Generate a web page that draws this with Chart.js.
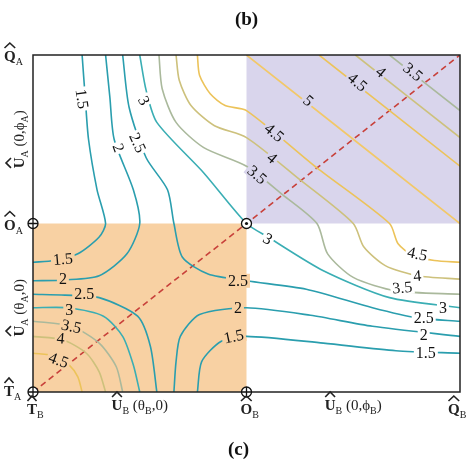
<!DOCTYPE html>
<html><head><meta charset="utf-8">
<script src="https://cdn.jsdelivr.net/npm/chart.js@4"></script>
<style>html,body{margin:0;padding:0;background:#fff}#w{width:474px;height:474px}</style>
</head><body><div id="w"><canvas id="c"></canvas></div>
<script>
// Contour lines (data units: x,y in 0..2)
const c15a = [[0.23,2],[0.245,1.74],[0.26,1.5],[0.30,1.2],[0.34,1],[0.31,0.92],[0.21,0.82],[0.10,0.78],[0,0.77]];
const c20a = [[0.34,2],[0.36,1.75],[0.38,1.5],[0.47,1.2],[0.50,1],[0.44,0.82],[0.31,0.69],[0.15,0.665],[0,0.66]];
const c25a = [[0.42,2],[0.45,1.69],[0.53,1.39],[0.63,1.2],[0.66,1],[0.70,0.80],[0.82,0.70],[1,0.66],[1.28,0.61],[1.59,0.50],[1.8,0.44],[2,0.42]];
const c30a = [[0.50,2],[0.53,1.79],[0.58,1.6],[0.80,1.30],[1,1],[1.10,0.92],[1.36,0.72],[1.67,0.56],[2,0.50]];
const c25b = [[0,0.58],[0.15,0.575],[0.31,0.56],[0.49,0.45],[0.55,0.27],[0.58,0]];
const c30b = [[0,0.50],[0.16,0.50],[0.33,0.45],[0.42,0.33],[0.47,0.16],[0.50,0]];
const c20b = [[0.66,0],[0.67,0.18],[0.69,0.33],[0.78,0.46],[1,0.50],[1.3,0.455],[1.59,0.39],[2,0.33]];
const c15b = [[0.77,0],[0.79,0.18],[0.88,0.30],[1,0.33],[1.36,0.29],[1.7,0.245],[2,0.23]];
const c35a = [[0,0.42],[0.18,0.39],[0.31,0.29],[0.39,0.15],[0.42,0]];
const c40a = [[0,0.33],[0.14,0.31],[0.25,0.23],[0.31,0.12],[0.34,0]];
const c45a = [[0,0.23],[0.10,0.215],[0.17,0.16],[0.21,0.09],[0.23,0]];
const c35b = [[0.59,2],[0.605,1.80],[0.67,1.60],[0.80,1.45],[1,1.34],[1.17,1.17],[1.33,1],[1.38,0.82],[1.50,0.68],[1.70,0.60],[2,0.58]];
const c40b = [[0.67,2],[0.685,1.85],[0.74,1.70],[0.85,1.58],[1,1.51],[1.25,1.26],[1.50,1],[1.55,0.86],[1.65,0.75],[1.80,0.69],[2,0.67]];
const c45b = [[0.77,2],[0.78,1.88],[0.83,1.77],[0.90,1.70],[1,1.67],[1.33,1.33],[1.67,1],[1.71,0.88],[1.78,0.81],[1.88,0.78],[2,0.77]];
const c50 = [[1,2],[2,1]];
const c45c = [[1.34,2],[2,1.34]];
const c40c = [[1.51,2],[2,1.51]];
const c35c = [[1.67,2],[2,1.67]];
const diag = [[0,0],[2,2]];
// contour labels: text, x, y, angle(deg)
const labels = [
 ["1.5",0.23,1.74,82],["2",0.40,1.45,70],["2.5",0.49,1.48,65],["3",0.52,1.73,62],
 ["5",1.29,1.73,40],["4.5",1.13,1.54,40],["4",1.12,1.39,40],["3.5",1.05,1.29,40],
 ["4.5",1.52,1.84,40],["4",1.63,1.90,40],["3.5",1.78,1.90,40],
 ["3",1.10,0.91,30],["4.5",1.80,0.82,12],["4",1.80,0.69,-5],["3.5",1.73,0.62,-5],
 ["3",1.92,0.50,0],["2.5",1.83,0.44,0],["2",1.83,0.34,0],["1.5",1.84,0.23,0],
 ["1.5",0.14,0.79,-5],["2",0.14,0.67,0],["2.5",0.24,0.58,0],["3",0.17,0.49,0],
 ["3.5",0.18,0.39,12],["4",0.13,0.32,5],["4.5",0.12,0.19,20],
 ["2.5",0.96,0.66,0],["2",0.96,0.50,0],["1.5",0.94,0.33,-12]
];
const teal="#2a9eae", teal2="#3aaeb4", grey="#aab99c", khaki="#cdc17c", yel="#ecc35a", yel5="#f2c868";
const lines = [
 [c15a,teal],[c20a,teal],[c25a,teal],[c30a,teal2],[c25b,teal],[c30b,teal2],[c20b,teal],[c15b,teal],
 [c35a,grey],[c40a,khaki],[c45a,yel],[c35b,grey],[c40b,khaki],[c45b,yel],[c50,yel5],[c45c,yel],[c40c,khaki],[c35c,grey]
];
const datasets = lines.map(([d,col])=>({data:d.map(p=>({x:p[0],y:p[1]})),borderColor:col,borderWidth:1.6,showLine:true,pointRadius:0,tension:0.25,fill:false}));
datasets.push({data:diag.map(p=>({x:p[0],y:p[1]})),borderColor:"#c8403a",borderWidth:1.6,borderDash:[6,4],showLine:true,pointRadius:0,fill:false});

function hatLabel(ctx,segs,x,y,rot,align){
  ctx.save();ctx.translate(x,y);ctx.rotate(rot);
  let w=0;
  const meas=s=>{ctx.font=s.f;return ctx.measureText(s.t).width;};
  segs.forEach(s=>w+=meas(s));
  let cx = align==="center"? -w/2 : 0;
  segs.forEach(s=>{
    ctx.font=s.f;ctx.fillStyle="#222";ctx.textBaseline="alphabetic";ctx.textAlign="left";
    const mw=ctx.measureText(s.t).width;
    ctx.fillText(s.t,cx,s.dy||0);
    if(s.hat){ctx.beginPath();ctx.moveTo(cx+0.5,-13);ctx.lineTo(cx+mw/2,-18);ctx.lineTo(cx+mw-0.5,-13);ctx.strokeStyle="#222";ctx.lineWidth=1.6;ctx.stroke();}
    cx+=mw;
  });
  ctx.restore();
}
const B="bold 15px 'Liberation Serif'", S="10px 'Liberation Serif'", N="15px 'Liberation Serif'";
const H=t=>({t,f:B,hat:true}), sub=t=>({t,f:S,dy:4}), n=t=>({t,f:N});

const plug={id:'p',
 beforeDatasetsDraw(ch){const {ctx}=ch;const X=ch.scales.x,Y=ch.scales.y;
  ctx.save();
  ctx.fillStyle="#f8d1a3";ctx.fillRect(X.getPixelForValue(0),Y.getPixelForValue(1),X.getPixelForValue(1)-X.getPixelForValue(0),Y.getPixelForValue(0)-Y.getPixelForValue(1));
  ctx.fillStyle="#d9d5ec";ctx.fillRect(X.getPixelForValue(1),Y.getPixelForValue(2),X.getPixelForValue(2)-X.getPixelForValue(1),Y.getPixelForValue(1)-Y.getPixelForValue(2));
  ctx.restore();},
 afterDatasetsDraw(ch){const {ctx}=ch;const X=ch.scales.x,Y=ch.scales.y;
  ctx.save();
  labels.forEach(([t,x,y,a])=>{
    const px=X.getPixelForValue(x),py=Y.getPixelForValue(y);
    ctx.save();ctx.translate(px,py);ctx.rotate(a*Math.PI/180);
    ctx.font="16px 'Liberation Serif'";const w=ctx.measureText(t).width;
    const bg=(x<1&&y<1)?"#f8d1a3":(x>1&&y>1)?"#d9d5ec":"#ffffff";
    ctx.fillStyle=bg;ctx.fillRect(-w/2-2,-7,w+4,14);
    ctx.fillStyle="#111";ctx.textAlign="center";ctx.textBaseline="middle";ctx.fillText(t,0,1);
    ctx.restore();
  });
  ctx.strokeStyle="#222";ctx.lineWidth=1.5;
  ctx.strokeRect(X.left,Y.top,X.right-X.left,Y.bottom-Y.top);
  const mk=(x,y,type)=>{const px=X.getPixelForValue(x),py=Y.getPixelForValue(y);
    ctx.beginPath();ctx.arc(px,py,5,0,2*Math.PI);ctx.fillStyle="#fff";ctx.fill();ctx.lineWidth=1.3;ctx.strokeStyle="#111";ctx.stroke();
    if(type==="plus"){ctx.beginPath();ctx.moveTo(px-5,py);ctx.lineTo(px+5,py);ctx.moveTo(px,py-5);ctx.lineTo(px,py+5);ctx.stroke();}
    else{ctx.beginPath();ctx.arc(px,py,1.6,0,2*Math.PI);ctx.fillStyle="#111";ctx.fill();}
  };
  mk(0,1,"plus");mk(0,0,"plus");mk(1,0,"plus");mk(1,1,"dot");
  hatLabel(ctx,[H("Q"),sub("A")],4,Y.getPixelForValue(2)+6,0);
  hatLabel(ctx,[H("O"),sub("A")],4,Y.getPixelForValue(1)+6,0);
  hatLabel(ctx,[H("T"),sub("A")],4,Y.getPixelForValue(0)+4,0);
  hatLabel(ctx,[H("U"),sub("A"),n(" (0,ϕ"),sub("A"),n(")")],24,Y.getPixelForValue(1.5),-Math.PI/2,"center");
  hatLabel(ctx,[H("U"),sub("A"),n(" (θ"),sub("A"),n(",0)")],24,Y.getPixelForValue(0.5),-Math.PI/2,"center");
  const by=Y.bottom+22;
  hatLabel(ctx,[H("T"),sub("B")],X.getPixelForValue(0)-6,by,0);
  hatLabel(ctx,[H("O"),sub("B")],X.getPixelForValue(1)-6,by,0);
  hatLabel(ctx,[H("Q"),sub("B")],X.getPixelForValue(2)-12,by,0);
  hatLabel(ctx,[H("U"),sub("B"),n(" (θ"),sub("B"),n(",0)")],X.getPixelForValue(0.5),by-4,0,"center");
  hatLabel(ctx,[H("U"),sub("B"),n(" (0,ϕ"),sub("B"),n(")")],X.getPixelForValue(1.5),by-4,0,"center");
  ctx.font="bold 19px 'Liberation Serif'";ctx.fillStyle="#111";ctx.textAlign="center";ctx.textBaseline="middle";
  ctx.fillText("(b)",X.getPixelForValue(1),20);
  ctx.fillText("(c)",X.getPixelForValue(1)-8,450);
  ctx.restore();}
};
new Chart(document.getElementById('c'),{type:'scatter',data:{datasets},
 options:{responsive:true,maintainAspectRatio:false,animation:false,
  layout:{padding:{left:33,right:14,top:55,bottom:82}},
  plugins:{legend:{display:false},tooltip:{enabled:false}},
  scales:{x:{type:'linear',min:0,max:2,display:false},y:{type:'linear',min:0,max:2,display:false}}},
 plugins:[plug]});
</script></body></html>
